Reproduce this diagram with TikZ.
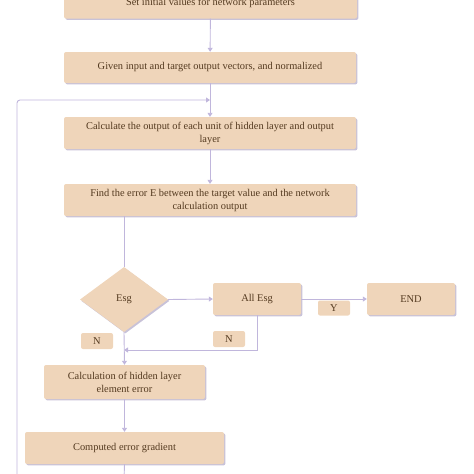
\documentclass[tikz,border=0pt]{standalone}
\usepackage{fontspec}
\setmainfont{Liberation Serif}
\usepackage{tikz}
\usetikzlibrary{positioning, arrows.meta, shapes.geometric, shadows}
\definecolor{boxFill}{RGB}{239, 213, 186}
\definecolor{lineColor}{RGB}{192, 182, 220}
\definecolor{shadowColor}{RGB}{200, 194, 216}
\definecolor{textColor}{RGB}{84, 58, 32}
\tikzset{
    flow_box/.style={
        rectangle,
        rounded corners=2pt,
        fill=boxFill,
        text=textColor,
        align=center,
        inner sep=0pt,
        font=\fontsize{10.4}{13}\selectfont,
        drop shadow={shadow xshift=1.4pt, shadow yshift=-1.4pt,
            fill=shadowColor, opacity=1}
    },
    flow_test/.style={
        diamond,
        fill=boxFill,
        text=textColor,
        inner sep=0pt,
        minimum width=88pt,
        minimum height=65pt,
        font=\fontsize{10.4}{13}\selectfont,
        drop shadow={shadow xshift=1.4pt, shadow yshift=-1.4pt,
            fill=shadowColor, opacity=1}
    },
    flow_tag/.style={
        rectangle,
        rounded corners=2pt,
        fill=boxFill,
        text=textColor,
        inner sep=0pt,
        minimum width=32pt,
        minimum height=15pt,
        font=\fontsize{10.4}{13}\selectfont
    },
    flow_edge/.style={
        ->,
        >={Triangle[length=4pt, width=5pt]},
        line width=0.9pt,
        draw=lineColor
    }
}
\begin{document}
\begin{tikzpicture}[x=1pt, y=-1pt]
    \useasboundingbox (0,0) rectangle (474,474);
    \clip (0,0) rectangle (474,474);

    \node[flow_box, minimum width=293pt, minimum height=32pt] (init) at (210.5,2.5)
        {Set initial values for network parameters};
    \node[flow_box, minimum width=292pt, minimum height=31pt] (given) at (210,67.5)
        {Given input and target output vectors, and normalized};
    \node[flow_box, minimum width=292pt, minimum height=32pt] (calc_out) at (210,133)
        {Calculate the output of each unit of hidden layer and output\\layer};
    \node[flow_box, minimum width=292pt, minimum height=32pt] (find_err) at (210,200)
        {Find the error E between the target value and the network\\calculation output};
    \node[flow_test] (esg) at (124,299.5) {Esg};
    \node[flow_box, minimum width=88pt, minimum height=32pt] (all_esg) at (257,299) {All Esg};
    \node[flow_box, minimum width=88pt, minimum height=32pt] (end) at (411,299) {END};
    \node[flow_tag] (y_tag) at (334,308) {Y};
    \node[flow_tag, minimum height=16pt] (n_left) at (97,341) {N};
    \node[flow_tag, minimum height=16pt] (n_right) at (229,339) {N};
    \node[flow_box, minimum width=161pt, minimum height=34pt] (hid_err) at (124.5,382)
        {Calculation of hidden layer\\element error};
    \node[flow_box, minimum width=199pt, minimum height=32pt] (grad) at (124.5,448)
        {Computed error gradient};

    \coordinate (loop_in) at (210,100);
    \coordinate (loop_low) at (17,480);
    \coordinate (n_join) at (124,350);
    \coordinate (grad_out) at (124,480);

    \draw[flow_edge] (init) -- (given);
    \draw[flow_edge] (given) -- (calc_out);
    \draw[flow_edge] (calc_out) -- (find_err);
    \draw[flow_edge, -] (find_err.south -| esg.north) -- (esg.north);
    \draw[flow_edge] (esg.east) -- (all_esg.west);
    \draw[flow_edge] (all_esg.east) -- (end.west);
    \draw[flow_edge] (all_esg.south) |- (n_join);
    \draw[flow_edge] (esg.south) -- (hid_err.north);
    \draw[flow_edge] (hid_err) -- (grad);
    \draw[flow_edge, -] (grad.south) -- (grad_out);
    \draw[flow_edge, rounded corners=3pt] (loop_low) |- (loop_in);
\end{tikzpicture}
\end{document}
